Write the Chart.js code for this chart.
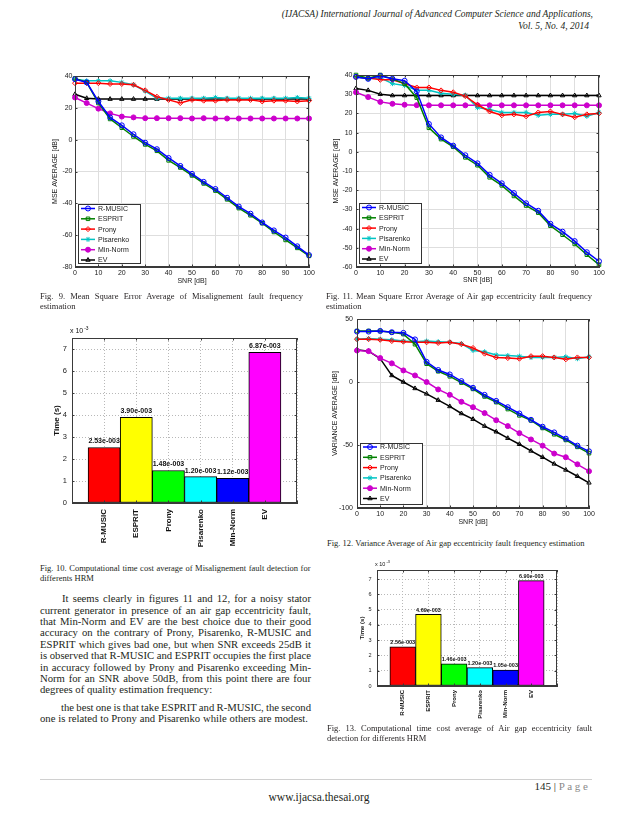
<!DOCTYPE html>
<html><head><meta charset="utf-8">
<script src="https://cdn.jsdelivr.net/npm/chart.js@4/dist/chart.umd.min.js"></script>
<style>
html,body{margin:0;padding:0;background:#fff;}
body{width:638px;height:826px;position:relative;overflow:hidden;font-family:"Liberation Serif","Times New Roman",serif;color:#231f20;}
canvas{position:absolute;}
.t{position:absolute;white-space:nowrap;}
#footline{position:absolute;left:40px;width:552px;top:779px;height:0;border-top:1px solid #d0d0d0;}
</style>
</head><body>
<canvas id="fig9"></canvas>
<canvas id="fig11"></canvas>
<canvas id="fig10"></canvas>
<canvas id="fig12"></canvas>
<canvas id="fig13"></canvas>
<div id="footline"></div>
<script>
// ---------------- DATA ----------------
const snrDb = [0,5,10,15,20,25,30,35,40,45,50,55,60,65,70,75,80,85,90,95,100];
const methods = ['R-MUSIC','ESPRIT','Prony','Pisarenko','Min-Norm','EV'];

// Fig. 9 – MSE average, misalignment fault [dB]
const fig9RMusic    = [38, 36, 24, 14, 9, 3.4, -1.9, -6, -11.5, -16.5, -21.5, -26.5, -31, -36.5, -42, -46.5, -52, -57, -61.5, -67, -72.5];
const fig9Esprit    = [38.5, 36, 23, 13, 7.5, 2, -3, -7, -13, -17.5, -22.5, -27.5, -32, -37.5, -43, -47.5, -52.5, -58, -63, -68, -73];
const fig9Prony     = [35.5, 35.5, 35.5, 35, 35, 34.5, 31, 27, 25, 23, 25, 24.5, 24.5, 25, 25, 25, 24, 24.5, 24.5, 24, 24.5];
const fig9Pisarenko = [38, 37, 37, 37, 36, 34.5, 30.5, 26, 26, 26, 26, 26, 26.5, 26, 26, 26, 26, 26, 26, 26.5, 26];
const fig9MinNorm   = [26.5, 23, 19.5, 16.5, 14.5, 14, 13.5, 13.5, 13.5, 13.5, 13.3, 13.5, 13.3, 13.3, 13.3, 13.3, 13.3, 13.3, 13.3, 13.3, 13.3];
const fig9EV        = [28.5, 26, 25.5, 25.5, 25.5, 25.5, 25.5, 25.5, 25.5, 25.5, 25.5, 25.5, 25.5, 25.5, 25.5, 25.5, 25.5, 25.5, 25.5, 25.5, 25.5];

// Fig. 11 – MSE average, air gap eccentricity fault [dB]
const fig11RMusic    = [39, 38, 39.5, 38, 37, 31.5, 14.5, 7.5, 3.2, -1.8, -6, -12, -16.4, -21.5, -26.8, -30.7, -37.5, -41.6, -46.5, -52.3, -57];
const fig11Esprit    = [40, 38.3, 40, 38, 35.5, 28.2, 12.5, 6.6, 2.6, -2.9, -7, -13.3, -17.5, -23, -28, -31.7, -38.5, -43.2, -48, -53.6, -58.8];
const fig11Prony     = [39, 38.5, 37.5, 37.5, 35.5, 33.5, 33.5, 32, 31, 29, 24.5, 21, 19, 19.5, 18.5, 20.5, 21, 19.5, 18, 19.5, 20];
const fig11Pisarenko = [39, 38, 38.5, 35.5, 34.5, 32, 32, 30.5, 30, 29.5, 23, 22, 20.5, 20.5, 20.5, 19, 19.5, 19.5, 20, 18.5, 20.5];
const fig11MinNorm   = [31, 28.5, 26, 25, 24.5, 24.3, 24.2, 24.2, 24.2, 24.2, 24.2, 24.2, 24.2, 24.2, 24.2, 24.2, 24.2, 24.2, 24.2, 24.2, 24.2];
const fig11EV        = [33, 32, 30, 29.3, 29.3, 29.3, 29.3, 29.3, 29.3, 29.3, 29.3, 29.3, 29.3, 29.3, 29.3, 29.3, 29.3, 29.3, 29.3, 29.3, 29.3];

// Fig. 12 – Variance average, air gap eccentricity fault [dB]
const fig12RMusic    = [40, 40, 40.5, 39.5, 39, 33.8, 16, 9.5, 6, 0.7, -4.6, -10.2, -15, -20, -25, -30, -35.5, -40, -45, -50.5, -55];
const fig12Esprit    = [40.5, 40.5, 40.5, 39.5, 38, 30, 14.5, 8.5, 4.5, -0.5, -5.5, -11.5, -16, -21.5, -26.5, -30.5, -36.5, -41.5, -46, -51.5, -56.5];
const fig12Prony     = [34, 34, 33.5, 32.5, 32, 31.5, 31.5, 31, 31.5, 30, 27, 22.5, 19.5, 19, 18.5, 20.5, 20.5, 19.5, 18, 19.5, 19.5];
const fig12Pisarenko = [34, 34.5, 34, 33.5, 32.5, 32, 32.5, 32, 31.5, 30.5, 25, 24, 21.5, 21, 20.5, 19.5, 19.5, 19.5, 20, 18.5, 20];
const fig12MinNorm   = [25, 24.5, 19, 14.8, 9.2, 5.2, 0, -5.9, -10.2, -15.7, -20, -24.7, -30.3, -35, -40.6, -45.6, -50.5, -56.8, -59.7, -65.3, -70.8];
const fig12EV        = [25.5, 24.5, 18.5, 5.2, 0, -5.1, -9.4, -14.4, -19.4, -25, -29.5, -35, -39.5, -44.6, -49.4, -54.7, -59.7, -65, -69.8, -74.8, -80];

// Fig. 10 / Fig. 13 – computational time (x 10^-3 s)
const fig10Times = [2.53, 3.90, 1.48, 1.20, 1.12, 6.87];
const fig13Times = [2.56, 4.69, 1.46, 1.20, 1.05, 6.90];

// ---------------- STYLES ----------------
const lineStyles = [
  {color:'#0000ff', point:'circle',  fill:'rgba(0,0,0,0)'},
  {color:'#008000', point:'rect',    fill:'rgba(0,0,0,0)'},
  {color:'#ff0000', point:'rectRot', fill:'rgba(0,0,0,0)'},
  {color:'#00c4c4', point:'star',    fill:'rgba(0,0,0,0)'},
  {color:'#cc00cc', point:'circle',  fill:'#cc00cc'},
  {color:'#000000', point:'triangle',fill:'rgba(0,0,0,0)'}
];
const barColors = ['#ff0000','#ffff00','#00ff00','#00ffff','#0000ff','#ff00ff'];
const SANS = '"Liberation Sans", Arial, Helvetica, sans-serif';
Chart.defaults.font.family = SANS;
Chart.defaults.color = '#262626';

function drawMarker(ctx, style, r, x, y){
  if (Chart.helpers && Chart.helpers.drawPoint) {
    Chart.helpers.drawPoint(ctx, {pointStyle:style, radius:r, rotation:0, borderWidth:ctx.lineWidth}, x, y);
  } else {
    ctx.beginPath(); ctx.arc(x,y,r,0,Math.PI*2); ctx.fill(); ctx.stroke();
  }
}

// frame + inward tick marks (MATLAB box)
const framePlugin = {
  id:'frame',
  afterDatasetsDraw(chart){
    const {ctx, chartArea:a} = chart;
    ctx.save();
    ctx.strokeStyle = '#3a3a3a'; ctx.lineWidth = 1;
    ctx.strokeRect(Math.round(a.left)+0.5, Math.round(a.top)+0.5, Math.round(a.right-a.left)-1, Math.round(a.bottom-a.top)-1);
    const xs = chart.scales.x, ys = chart.scales.y;
    ctx.beginPath();
    xs.ticks.forEach(t=>{ const px = Math.round(xs.getPixelForValue(t.value))+0.5;
      ctx.moveTo(px,a.top); ctx.lineTo(px,a.top+2.5); ctx.moveTo(px,a.bottom); ctx.lineTo(px,a.bottom-2.5); });
    ys.ticks.forEach(t=>{ const py = Math.round(ys.getPixelForValue(t.value))+0.5;
      ctx.moveTo(a.left,py); ctx.lineTo(a.left+2.5,py); ctx.moveTo(a.right,py); ctx.lineTo(a.right-2.5,py); });
    ctx.stroke();
    ctx.restore();
  }
};

// MATLAB-like legend inside the axes, bottom-left
const boxLegendPlugin = {
  id:'boxLegend',
  afterDraw(chart, args, o){
    if (!o || !o.show) return;
    const {ctx, chartArea:a} = chart;
    const lx = a.left + o.dx, ly = a.bottom - o.dy - o.h;
    ctx.save();
    ctx.fillStyle = '#fff'; ctx.fillRect(lx, ly, o.w, o.h);
    ctx.strokeStyle = '#333'; ctx.lineWidth = 1;
    ctx.strokeRect(Math.round(lx)+0.5, Math.round(ly)+0.5, o.w, o.h);
    ctx.font = '7px ' + SANS; ctx.textBaseline = 'middle'; ctx.textAlign = 'left';
    chart.data.datasets.forEach((ds,i)=>{
      const cy = ly + o.first + o.row*i;
      const x0 = lx + 3, x1 = x0 + o.len;
      ctx.strokeStyle = ds.borderColor; ctx.lineWidth = ds.borderWidth;
      ctx.beginPath(); ctx.moveTo(x0,cy); ctx.lineTo(x1,cy); ctx.stroke();
      ctx.lineWidth = ds.pointBorderWidth; ctx.fillStyle = ds.pointBackgroundColor;
      drawMarker(ctx, ds.pointStyle, ds.pointRadius, (x0+x1)/2, cy);
      ctx.fillStyle = '#222';
      ctx.fillText(ds.label, x1 + 3, cy + 0.5);
    });
    ctx.restore();
  }
};

function place(cv, g){
  cv.width = g.cw; cv.height = g.ch;
  cv.style.left = g.cl + 'px'; cv.style.top = g.ct + 'px';
  cv.style.width = g.cw + 'px'; cv.style.height = g.ch + 'px';
}

function lineChart(id, g, yMin, yMax, yStep, yTitle, series, leg){
  const cv = document.getElementById(id); place(cv, g);
  const datasets = series.map((arr,i)=>({
    label: methods[i],
    data: snrDb.map((x,j)=>({x:x, y:arr[j]})),
    borderColor: lineStyles[i].color, backgroundColor: lineStyles[i].color,
    borderWidth: 1.5, pointStyle: lineStyles[i].point, pointRadius: 2.5, pointHoverRadius: 2.5,
    pointBorderWidth: 1, pointBackgroundColor: lineStyles[i].fill, pointBorderColor: lineStyles[i].color,
    tension: 0, clip: false
  }));
  return new Chart(cv, {
    type:'line', data:{datasets},
    options:{
      responsive:false, animation:false, devicePixelRatio:1, events:[],
      layout:{padding:{top:g.T-g.ct, right:g.cl+g.cw-g.R, left:0, bottom:0}},
      plugins:{legend:{display:false}, tooltip:{enabled:false}, boxLegend:Object.assign({show:true}, leg)},
      scales:{
        x:{type:'linear', min:0, max:100,
           ticks:{stepSize:10, autoSkip:false, maxRotation:0, font:{size:7}, padding:g.xtp, color:'#222'},
           grid:{color:'#dedede', lineWidth:1, drawTicks:false}, border:{color:'#3a3a3a'},
           title:{display:true, text:'SNR [dB]', font:{size:7}, color:'#222', padding:{top:0, bottom:g.xtitle}},
           afterFit(s){ s.height = g.ct + g.ch - g.B; }},
        y:{type:'linear', min:yMin, max:yMax,
           ticks:{stepSize:yStep, autoSkip:false, font:{size:7}, padding:g.ytp, color:'#222', includeBounds:false},
           grid:{color:'#dedede', lineWidth:1, drawTicks:false}, border:{color:'#3a3a3a'},
           title:{display:true, text:yTitle, font:{size:7}, color:'#222', padding:{top:g.ytitle, bottom:0}},
           afterFit(s){ s.width = g.L - g.cl; }}
      }
    },
    plugins:[framePlugin, boxLegendPlugin]
  });
}

const barLabelPlugin = {
  id:'barLabels',
  afterDatasetsDraw(chart, args, o){
    const {ctx, chartArea:a} = chart;
    const meta = chart.getDatasetMeta(0);
    const vals = chart.data.datasets[0].data;
    ctx.save();
    ctx.fillStyle = '#111';
    ctx.font = 'bold ' + o.size + 'px ' + SANS; ctx.textAlign = 'center'; ctx.textBaseline = 'bottom';
    meta.data.forEach((el,i)=>{ ctx.fillText(vals[i].y.toFixed(2) + 'e-003', el.x, el.y - o.gap); });
    ctx.font = o.msize + 'px ' + SANS; ctx.textAlign = 'left'; ctx.textBaseline = 'alphabetic';
    const mx = a.left + o.mx, my = a.top - o.my;
    ctx.fillText('x 10', mx, my);
    const w = ctx.measureText('x 10').width;
    ctx.font = (o.msize*0.7) + 'px ' + SANS;
    ctx.fillText('-3', mx + w + 1, my - o.msize*0.5);
    ctx.restore();
  }
};

function barChart(id, g, times, yMax, f){
  const cv = document.getElementById(id); place(cv, g);
  return new Chart(cv, {
    type:'bar',
    data:{datasets:[{data: times.map((v,i)=>({x:i+1, y:v})), backgroundColor: barColors,
      borderColor:'#000', borderWidth:1, barPercentage:1, categoryPercentage:1, borderSkipped:false}]},
    options:{
      responsive:false, animation:false, devicePixelRatio:1, events:[],
      layout:{padding:{top:g.T-g.ct, right:g.cl+g.cw-g.R, left:0, bottom:0}},
      plugins:{legend:{display:false}, tooltip:{enabled:false}, barLabels:f.lab},
      scales:{
        x:{type:'linear', min:0, max:7, offset:false,
           ticks:{stepSize:1, autoSkip:false, minRotation:90, maxRotation:90, padding:g.xtp, color:'#111',
                  font:{size:f.xl, weight:'bold'}, callback:(v)=>methods[v-1]||''},
           grid:{color:'#b8b8b8', lineWidth:1, drawTicks:false, offset:false}, border:{color:'#3a3a3a', dash:[1,2]},
           afterFit(s){ s.height = g.ct + g.ch - g.B; }},
        y:{type:'linear', min:0, max:yMax,
           ticks:{stepSize:1, autoSkip:false, includeBounds:false, font:{size:f.yt}, padding:g.ytp, color:'#222'},
           grid:{color:'#b8b8b8', lineWidth:1, drawTicks:false}, border:{color:'#3a3a3a', dash:[1,2]},
           title:{display:true, text:'Time (s)', color:'#111', font:{size:f.yl, weight:'bold'}, padding:{top:g.ytitle, bottom:0}},
           afterFit(s){ s.width = g.L - g.cl; }}
      }
    },
    plugins:[framePlugin, barLabelPlugin]
  });
}

// ---------------- CHARTS ----------------
lineChart('fig9', {cl:40, ct:66, cw:280, ch:226, L:75, T:76, R:309, B:267, xtp:2, xtitle:7, ytp:2.5, ytitle:10.8},
  -80, 40, 20, 'MSE AVERAGE [dB]',
  [fig9RMusic, fig9Esprit, fig9Prony, fig9Pisarenko, fig9MinNorm, fig9EV],
  {dx:3, dy:4, w:62, h:59, first:4.5, row:10.3, len:14});

lineChart('fig11', {cl:320, ct:65, cw:300, ch:227, L:356, T:75, R:599, B:267, xtp:2, xtitle:8, ytp:3.5, ytitle:11.5},
  -60, 40, 10, 'MSE AVERAGE [dB]',
  [fig11RMusic, fig11Esprit, fig11Prony, fig11Pisarenko, fig11MinNorm, fig11EV],
  {dx:3, dy:4, w:62, h:60, first:4.5, row:10.3, len:14});

lineChart('fig12', {cl:320, ct:309, cw:290, ch:225, L:357, T:319, R:589, B:508, xtp:2, xtitle:8, ytp:4, ytitle:10.8},
  -100, 50, 50, 'VARIANCE AVERAGE [dB]',
  [fig12RMusic, fig12Esprit, fig12Prony, fig12Pisarenko, fig12MinNorm, fig12EV],
  {dx:3, dy:4.5, w:62, h:61, first:4.5, row:10.3, len:14});

barChart('fig10', {cl:40, ct:315, cw:280, ch:240, L:72, T:338, R:297, B:503, xtp:6, ytp:5, ytitle:12},
  fig10Times, 7.52, {xl:8, yt:7.5, yl:8, lab:{size:7, gap:2.5, msize:7, mx:-2, my:5}});

barChart('fig13', {cl:320, ct:558, cw:290, ch:168, L:377, T:570, R:557, B:686, xtp:4, ytp:5.5, ytitle:38.5},
  fig13Times, 7.6, {xl:6, yt:5.5, yl:6, lab:{size:5.5, gap:1.5, msize:5.5, mx:-2, my:4}});

// ---------------- PAGE TEXT ----------------
function txt(o){
  const d = document.createElement('div');
  d.className = 't'; d.textContent = o.t;
  d.style.fontSize = o.s + 'px'; d.style.lineHeight = o.s + 'px';
  if (o.i) d.style.fontStyle = 'italic';
  if (o.c) d.style.color = o.c;
  document.body.appendChild(d);
  let w0 = d.getBoundingClientRect().width;
  if (o.w) {
    const n = (o.t.match(/ /g) || []).length;
    if (n) d.style.wordSpacing = ((o.w - w0) / n) + 'px';
    w0 = o.w;
  }
  let x = o.x;
  if (o.r !== undefined) x = o.r - w0;
  if (o.cx !== undefined) x = o.cx - w0/2;
  d.style.left = x + 'px';
  d.style.top = (o.y - o.s*0.55) + 'px';
  return d;
}
// header
txt({t:'(IJACSA) International Journal of Advanced Computer Science and Applications,', r:593, y:15, s:9.5, i:true});
txt({t:'Vol. 5, No. 4, 2014', r:589, y:27.5, s:9.5, i:true});
// captions
txt({t:'Fig. 9.  Mean Square Error Average of Misalignement fault frequency', x:40, w:266, y:297, s:8.5});
txt({t:'estimation', x:40, y:307, s:8.5});
txt({t:'Fig. 11. Mean Square Error Average of Air gap eccentricity fault frequency', x:326, w:266, y:297, s:8.5});
txt({t:'estimation', x:326, y:307, s:8.5});
txt({t:'Fig. 10.  Computational time cost average of Misalignement fault detection for', x:40, w:271, y:569, s:8.5});
txt({t:'differents HRM', x:40, y:578.5, s:8.5});
txt({t:'Fig. 12.  Variance Average of Air gap eccentricity fault frequency estimation', x:327, y:544, s:8.5});
txt({t:'Fig. 13. Computational time cost average of Air gap eccentricity fault', x:327, w:265, y:729, s:8.5});
txt({t:'detection for differents HRM', x:327, y:739, s:8.5});
// paragraph
const para = [
  ['It seems clearly in figures 11 and 12, for a noisy stator', 62, 249],
  ['current generator in presence of an air gap eccentricity fault,', 40, 271],
  ['that Min-Norm and EV are the best choice due to their good', 40, 271],
  ['accuracy on the contrary of Prony, Pisarenko, R-MUSIC and', 40, 271],
  ['ESPRIT which gives bad one, but when SNR exceeds 25dB it', 40, 271],
  ['is observed that R-MUSIC and ESPRIT occupies the first place', 40, 271],
  ['in accuracy followed by Prony and Pisarenko exceeding Min-', 40, 271],
  ['Norm for an SNR above 50dB, from this point there are four', 40, 271],
  ['degrees of quality estimation frequency:', 40, 0]
];
para.forEach((p,i)=> txt({t:p[0], x:p[1], w:p[2]||undefined, y:599 + 11.4*i, s:10.7}));
txt({t:'the best one is that take ESPRIT and R-MUSIC, the second', x:61, w:250, y:707.5, s:10.7});
txt({t:'one is related to Prony and Pisarenko while others are modest.', x:40, w:268, y:719, s:10.7});
// footer
txt({t:'P a g e', r:588, y:787, s:11, c:'#8a8a8a'});
txt({t:'145 |', r:588 - 32, y:787, s:11});
txt({t:'www.ijacsa.thesai.org', cx:319, y:798, s:11.5});
</script>
</body></html>
